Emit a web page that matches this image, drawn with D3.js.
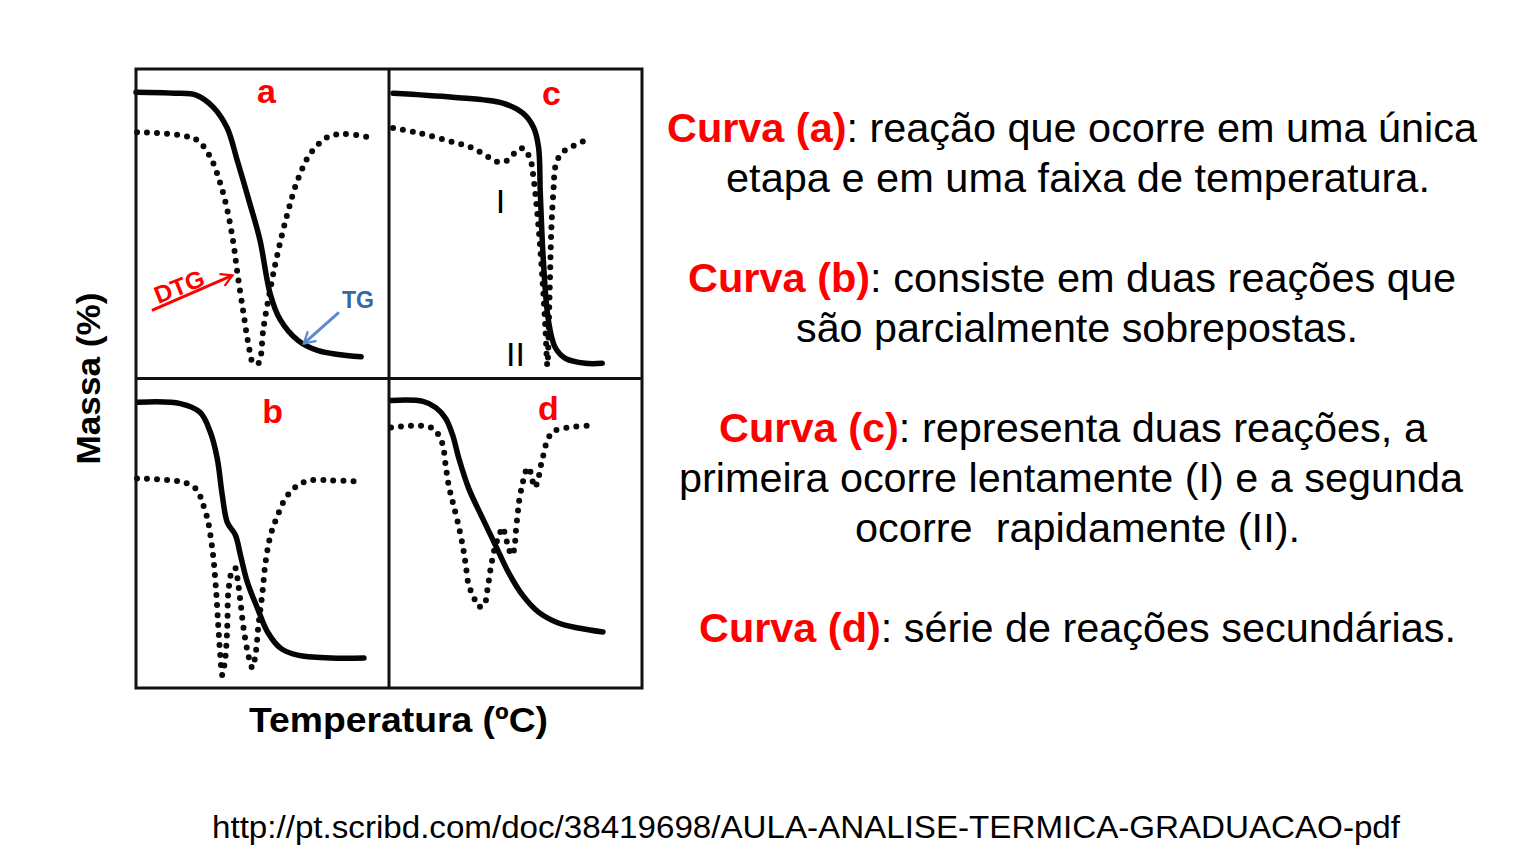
<!DOCTYPE html>
<html>
<head>
<meta charset="utf-8">
<script src="https://cdn.jsdelivr.net/npm/d3@7"></script>
<style>
  html, body { margin: 0; padding: 0; background: #fff; }
  svg { display: block; font-family: "Liberation Sans", Arial, sans-serif; }
</style>
</head>
<body>
<div class="canvas"></div>
<script>
// curves, x = temperature (0-100 of panel), y = mass / signal (0-100)
const tgA = [[0, 92.5], [15, 92.2], [24, 91.5], [30.5, 87.7], [36, 81], [40, 70.5], [45, 56.5], [49, 44.7], [53, 27.5], [57, 19], [64, 12.3], [72, 9], [89, 7]];
const dtgA = [[0.4, 79.6], [17.5, 78.6], [24.2, 77], [29.4, 71.5], [33.3, 63.1], [36.1, 54.4], [38.5, 43.7], [40.1, 34], [42.5, 21], [44.4, 11.3], [46.4, 4.9], [48.4, 4.9], [50.4, 16.5], [53.2, 29.4], [56, 40.5], [59.9, 53.4], [63.9, 64.1], [69, 72.8], [75.8, 78], [82.1, 79], [91.7, 78]];

const tgB = [[0.8, 92.3], [17.5, 91.9], [25.4, 89], [29.4, 82.6], [32.1, 74.2], [34.1, 62.3], [36.1, 53.5], [39.3, 49.4], [41.3, 42.9], [44, 34.2], [48, 25.8], [52, 18.1], [57.1, 12.9], [63.9, 10.6], [77, 9.7], [90.1, 9.7]];
const dtgB = [[0.4, 67.7], [13.5, 67.1], [20.2, 66.1], [24.2, 63.9], [26.2, 60], [28.2, 54.8], [29.4, 49.4], [30.6, 41.9], [31.7, 31], [32.5, 20.3], [33.3, 10.6], [34.1, 4.2], [35.3, 9.7], [36.1, 20.3], [36.5, 31], [38.1, 38.1], [39.3, 38.7], [40.1, 35.5], [41.3, 27.7], [42.5, 19.4], [44.4, 10.6], [46, 6.5], [47.2, 10.6], [48.4, 20.3], [50, 31], [51.2, 40.6], [53.2, 49.4], [56, 55.8], [59.1, 61.3], [63.9, 65.5], [69, 67.1], [77, 67.1], [86.1, 66.8]];

const tgC = [[1.6, 92.2], [25.2, 90.9], [44.9, 89], [52.8, 85.8], [57.1, 81.2], [59.1, 74.8], [59.8, 59.9], [61, 38.2], [63, 18.8], [65.7, 10], [69.7, 6.5], [77.6, 4.9], [84.3, 4.9]];
const dtgC = [[1.6, 80.9], [11.8, 79.3], [25.2, 76.4], [33.1, 74.4], [39.4, 71.5], [43.3, 69.9], [47.2, 70.6], [50, 73.1], [53.1, 74.4], [55.9, 70.6], [57.1, 65], [59.1, 48.9], [60.6, 32.7], [61.8, 16.5], [62.6, 4.2], [63.4, 25.2], [64.2, 48.9], [65, 60.8], [65.7, 68.3], [66.9, 71.2], [69.7, 73.8], [73.6, 75.4], [77.6, 77]];

const tgD = [[0.8, 92.9], [13.4, 92.6], [18.5, 90.6], [22.4, 87.1], [25.2, 81.6], [27.6, 74.2], [31.5, 64.5], [37, 54.8], [42.1, 46.1], [47.2, 37.4], [52.8, 30], [59.1, 24.5], [66.9, 21], [74.8, 19.4], [84.6, 18.1]];
const dtgD = [[0.8, 84.2], [11.8, 84.8], [17.3, 83.9], [19.7, 81.6], [21.3, 78.4], [22.4, 71.9], [23.6, 65.5], [25.2, 60], [27.2, 53.5], [29.1, 46.1], [30.3, 40], [31.5, 33.2], [33.5, 29.4], [35, 26.5], [37.4, 26.5], [39, 32.3], [40.2, 38.7], [42.1, 46.1], [43.3, 48.7], [44.9, 51.9], [46.1, 48.7], [47.2, 45.5], [48.4, 42.9], [49.6, 45.2], [50, 49.4], [50.8, 55.8], [51.6, 61.3], [52.8, 66.1], [53.9, 69.7], [55.1, 71.3], [56.3, 68.7], [57.5, 64.8], [58.7, 66.5], [59.8, 71], [61, 75.2], [62.6, 80], [65, 82.9], [70.9, 84.2], [80.3, 84.8]];

const panelKeys = ['a', 'c', 'b', 'd'];
const yTitle = 'Massa (%)';
const xTitle = 'Temperatura (ºC)';
const source = 'http://pt.scribd.com/doc/38419698/AULA-ANALISE-TERMICA-GRADUACAO-pdf';
const notes = [
  ['Curva (a)', ': reação que ocorre em uma única'],
  ['', 'etapa e em uma faixa de temperatura.'],
  null,
  ['Curva (b)', ': consiste em duas reações que'],
  ['', 'são parcialmente sobrepostas.'],
  null,
  ['Curva (c)', ': representa duas reações, a'],
  ['', 'primeira ocorre lentamente (I) e a segunda'],
  ['', 'ocorre  rapidamente (II).'],
  null,
  ['Curva (d)', ': série de reações secundárias.']
];

const width = 1516;
const height = 855;
const grid = { left: 136, top: 69, cellW: 253, cellH: 309.5 };
// where each note line starts and how wide it is drawn
const noteLayout = [[667, 810], [726, 704], null, [688, 768], [796, 562], null, [719, 708], [679, 784], [855, 445], null, [699, 757]];

const svg = d3.select('.canvas')
  .append('svg')
  .attr('width', width)
  .attr('height', height);

const panels = [
  { key: 'a', tg: tgA, dtg: dtgA, col: 0, row: 0, label: [51.6, 89] },
  { key: 'c', tg: tgC, dtg: dtgC, col: 1, row: 0, label: [64.2, 88.3] },
  { key: 'b', tg: tgB, dtg: dtgB, col: 0, row: 1, label: [54, 85.5] },
  { key: 'd', tg: tgD, dtg: dtgD, col: 1, row: 1, label: [63, 86.5] }
];

panels.forEach(p => {
  const x0 = grid.left + p.col * grid.cellW;
  const y0 = grid.top + p.row * grid.cellH;
  p.x = d3.scaleLinear().domain([0, 100]).range([x0, x0 + grid.cellW]);
  p.y = d3.scaleLinear().domain([0, 100]).range([y0 + grid.cellH, y0]);
});

const defs = svg.append('defs');
[['headRed', '#ff0000'], ['headBlue', '#5b8bcf']].forEach(([id, c]) => {
  defs.append('marker')
    .attr('id', id)
    .attr('viewBox', '0 0 10 10')
    .attr('refX', 8).attr('refY', 5)
    .attr('markerWidth', 5).attr('markerHeight', 5)
    .attr('orient', 'auto')
    .append('path')
    .attr('d', 'M1,1 L8,5 L1,9')
    .attr('fill', 'none')
    .attr('stroke', c)
    .attr('stroke-width', 1.5)
    .attr('stroke-linecap', 'round');
});

panels.forEach(p => {
  const line = d3.line()
    .x(d => p.x(d[0]))
    .y(d => p.y(d[1]))
    .curve(d3.curveCatmullRom.alpha(0.5));

  const g = svg.append('g').attr('class', 'panel-' + p.key);

  g.append('path')
    .datum(p.dtg)
    .attr('fill', 'none')
    .attr('stroke', '#0a0a0a')
    .attr('stroke-width', 6)
    .attr('stroke-linecap', 'round')
    .attr('stroke-dasharray', '0 10')
    .attr('d', line);

  g.append('path')
    .datum(p.tg)
    .attr('fill', 'none')
    .attr('stroke', '#050505')
    .attr('stroke-width', 5.5)
    .attr('stroke-linecap', 'round')
    .attr('d', line);

  g.append('text')
    .attr('x', p.x(p.label[0]))
    .attr('y', p.y(p.label[1]))
    .attr('text-anchor', 'middle')
    .attr('fill', '#ff0000')
    .attr('font-weight', 'bold')
    .attr('font-size', 34)
    .text(p.key);
});

// frame and dividers
const frame = svg.append('g')
  .attr('fill', 'none')
  .attr('stroke', '#111')
  .attr('stroke-width', 3);
frame.append('rect')
  .attr('x', grid.left).attr('y', grid.top)
  .attr('width', grid.cellW * 2).attr('height', grid.cellH * 2);
frame.append('line')
  .attr('x1', grid.left + grid.cellW).attr('x2', grid.left + grid.cellW)
  .attr('y1', grid.top).attr('y2', grid.top + grid.cellH * 2);
frame.append('line')
  .attr('x1', grid.left).attr('x2', grid.left + grid.cellW * 2)
  .attr('y1', grid.top + grid.cellH).attr('y2', grid.top + grid.cellH);

// annotations in panel a
const pa = panels[0];
svg.append('line')
  .attr('x1', pa.x(6.3)).attr('y1', pa.y(22))
  .attr('x2', pa.x(38.1)).attr('y2', pa.y(33.3))
  .attr('stroke', '#ff0000').attr('stroke-width', 3)
  .attr('marker-end', 'url(#headRed)');
svg.append('text')
  .attr('transform', `translate(${pa.x(18.3)},${pa.y(27.2)}) rotate(-22)`)
  .attr('text-anchor', 'middle')
  .attr('fill', '#ff0000')
  .attr('font-weight', 'bold')
  .attr('font-size', 24)
  .attr('textLength', 52)
  .attr('lengthAdjust', 'spacingAndGlyphs')
  .text('DTG');
svg.append('line')
  .attr('x1', pa.x(80.2)).attr('y1', pa.y(21.4))
  .attr('x2', pa.x(66.3)).attr('y2', pa.y(11.3))
  .attr('stroke', '#5b8bcf').attr('stroke-width', 3)
  .attr('marker-end', 'url(#headBlue)');
svg.append('text')
  .attr('x', pa.x(87.7)).attr('y', pa.y(22.8))
  .attr('text-anchor', 'middle')
  .attr('fill', '#36689f')
  .attr('font-weight', 'bold')
  .attr('font-size', 23)
  .attr('textLength', 32)
  .attr('lengthAdjust', 'spacingAndGlyphs')
  .text('TG');

// reaction marks in panel c
const pc = panels[1];
svg.append('text')
  .attr('x', pc.x(44.1)).attr('y', pc.y(53.4))
  .attr('text-anchor', 'middle')
  .attr('font-size', 34)
  .text('I');
svg.append('text')
  .attr('x', pc.x(50)).attr('y', pc.y(4.2))
  .attr('text-anchor', 'middle')
  .attr('font-size', 34)
  .text('II');

// axis titles
svg.append('text')
  .attr('transform', `translate(100,${grid.top + grid.cellH}) rotate(-90)`)
  .attr('text-anchor', 'middle')
  .attr('font-weight', 'bold')
  .attr('font-size', 33)
  .attr('textLength', 172)
  .attr('lengthAdjust', 'spacingAndGlyphs')
  .text(yTitle);
svg.append('text')
  .attr('x', 249).attr('y', 732)
  .attr('font-weight', 'bold')
  .attr('font-size', 35)
  .attr('textLength', 299)
  .attr('lengthAdjust', 'spacingAndGlyphs')
  .text(xTitle);

// explanation text
notes.forEach((n, i) => {
  if (!n) return;
  const [left, w] = noteLayout[i];
  const t = svg.append('text')
    .attr('x', left)
    .attr('y', 142 + 50 * i)
    .attr('font-size', 40)
    .attr('textLength', w)
    .attr('lengthAdjust', 'spacingAndGlyphs')
    .style('white-space', 'pre');
  if (n[0]) {
    t.append('tspan').attr('fill', '#ff0000').attr('font-weight', 'bold').text(n[0]);
  }
  t.append('tspan').attr('fill', '#000').text(n[1]);
});

svg.append('text')
  .attr('x', 212).attr('y', 838)
  .attr('font-size', 31)
  .attr('textLength', 1188)
  .attr('lengthAdjust', 'spacingAndGlyphs')
  .text(source);
</script>
</body>
</html>
